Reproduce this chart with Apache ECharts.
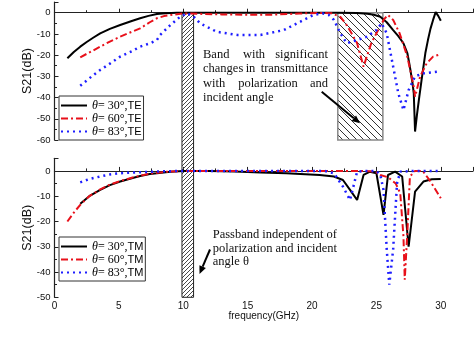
<!DOCTYPE html>
<html><head><meta charset="utf-8">
<script src="https://cdn.jsdelivr.net/npm/echarts@6/dist/echarts.min.js"></script>
<style>html,body{margin:0;padding:0;background:#fff}#c{width:474px;height:345px}</style>
</head><body><div id="c"></div>
<script>
// ---- data (frequency GHz, S21 dB) ----
const teNames = ['θ=30°,TE', 'θ=60°,TE', 'θ=83°,TE'];
const tmNames = ['θ=30°,TM', 'θ=60°,TM', 'θ=83°,TM'];

const te30 = [[1,-21.5],[1.5,-18.5],[2,-16],[2.5,-13.8],[3,-11.8],[3.55,-9.7],[4.3,-7.6],[5.1,-5.8],[6,-3.9],[6.65,-2.6],[7.3,-1.5],[7.95,-0.6],[8.6,-0.2],[9.5,0],[12,0],[16,0],[20,0],[22,0],[23.5,-0.1],[24.3,-0.5],[24.8,-1],[25.3,-1.9],[25.8,-4.5],[26.3,-8.2],[26.7,-11],[27.1,-14.4],[27.4,-19],[27.6,-25.5],[27.8,-33],[27.9,-38],[28.0,-56],[28.15,-48],[28.3,-41],[28.5,-32],[28.65,-25.5],[28.8,-19],[29.0,-12.9],[29.2,-7.5],[29.4,-3.4],[29.6,0.3],[29.8,-1.5],[30.0,-3.8]];
const te60 = [[2,-21],[3,-17.8],[3.55,-16],[4.3,-13.6],[5.1,-11.3],[6,-9],[6.65,-7.4],[7.4,-4.5],[7.95,-2.6],[8.5,-1.6],[9,-1.1],[10,-0.3],[11,-0.5],[13,-0.8],[15,-1],[17,-0.9],[19,-0.4],[20.5,-0.1],[21.5,-0.2],[22.2,-2],[22.6,-5],[23,-9],[23.5,-14.4],[24,-25.5],[24.25,-20.7],[24.6,-14.4],[25.2,-7.4],[25.6,-3],[25.9,-1.1],[26.3,-3.4],[26.8,-9.7],[27.4,-20.7],[27.9,-35],[28.0,-39.6],[28.4,-30],[28.9,-23.9],[29.4,-20.7],[30,-19.5]];
const te83 = [[2,-34.4],[3,-29.5],[3.55,-27],[4.3,-24],[5.1,-20.7],[6,-18.2],[6.65,-16],[7.43,-14.4],[7.95,-12.9],[8.2,-10.5],[9,-5.8],[9.76,-1.9],[10.3,-0.3],[10.8,-1.8],[11.3,-5],[12.6,-9],[14.2,-10.5],[16,-10.5],[17.8,-8.2],[19.1,-4.2],[20.1,-1.1],[20.8,-0.3],[21.3,-1],[21.7,-3.4],[22.2,-9.7],[22.7,-14.4],[23.5,-12.9],[24.25,-11.3],[25,-8.2],[25.4,-5],[25.8,-9.7],[26.2,-22.3],[26.7,-38],[27.1,-45.9],[27.5,-36.5],[28,-30],[28.65,-28.6],[29.7,-27.8]];

const tm30 = [[2,-13],[2.7,-10],[3.55,-7.5],[4.3,-5.6],[5.1,-4.2],[6,-2.9],[6.65,-2],[7.4,-1.2],[7.95,-0.9],[9,-0.3],[10,0],[12,0],[14,-0.2],[16,-0.6],[18,-0.9],[19.1,-1.2],[20.6,-1.6],[21.7,-2.2],[22.4,-3.6],[22.95,-7.5],[23.5,-11.5],[24,-1.6],[24.5,-0.3],[25,-0.9],[25.55,-17.4],[25.9,-1.6],[26.45,-0.3],[27,-2.2],[27.5,-30],[28,-8.2],[28.65,-4.2],[29.3,-3.3],[30,-3.2]];
const tm60 = [[1,-20],[1.5,-16.5],[2,-13.4],[2.7,-10],[3.55,-7.3],[4.3,-5.4],[5.1,-4],[6,-2.7],[6.65,-1.9],[7.4,-1.1],[8,-0.7],[9,-0.2],[10,0],[14,0],[18,0],[21,0],[24,0],[24.9,-0.3],[25.3,-1.6],[25.9,-2.5],[26.5,-5],[26.85,-8.8],[27.1,-26],[27.2,-43],[27.4,-24.6],[27.6,-2.2],[28,0],[28.6,0],[29.2,-4.2],[30,-10.8]];
const tm83 = [[2,-4.5],[2.7,-3.2],[3.55,-2.2],[4.3,-1.4],[5.1,-0.9],[6.65,-0.5],[8,-0.2],[10,0],[14,0],[18,0],[21,0],[21.7,-0.9],[22.4,-6.2],[22.95,-11.5],[23.5,-0.3],[24,0],[25,0],[25.3,-1.5],[25.55,-7.5],[25.8,-31],[26,-45],[26.3,-31],[26.6,-4.9],[26.85,-0.3],[28,0],[30,0]];

// hatched bands [xStart, xEnd]
const narrowBand = [9.9, 10.8];
const wideBand = [22, 25.5];
const wideBandY = [0, -60];

// ---- styles ----
function hatch(s, back, color, lw) {
  const c = document.createElement('canvas');
  c.width = s; c.height = s;
  const g = c.getContext('2d');
  g.strokeStyle = color; g.lineWidth = lw;
  g.beginPath();
  for (let k = -1; k <= 2; k++) {
    if (back) { g.moveTo(0, k * s); g.lineTo(s, k * s + s); }
    else { g.moveTo(0, k * s); g.lineTo(s, k * s - s); }
  }
  g.stroke();
  return { image: c, repeat: 'repeat' };
}

const styles = [
  { color: '#000', lineStyle: { width: 2, color: '#000', type: 'solid' } },
  { color: '#e8101a', lineStyle: { width: 2, color: '#e8101a', type: [7, 3, 2, 3] } },
  { color: '#1e1eff', lineStyle: { width: 2.5, color: '#1e1eff', type: [2, 4] } }
];

function mkSeries(name, data, st, idx) {
  return {
    name, type: 'line', data, xAxisIndex: idx, yAxisIndex: idx,
    symbol: 'none', smooth: false, z: 5,
    itemStyle: { color: st.color }, lineStyle: st.lineStyle, clip: true
  };
}

const L = 54.5, R = 1;
const axisCol = '#222';
function xAx(idx, showLabel) {
  return {
    type: 'value', gridIndex: idx, min: 0, max: 32.5, interval: 5,
    axisLine: { show: idx !== 2, lineStyle: { color: axisCol, width: 1.2 } },
    axisTick: { show: idx !== 2, inside: true, length: 4, lineStyle: { color: axisCol } },
    minorTick: { show: idx !== 2, splitNumber: 2, length: 2.5, lineStyle: { color: axisCol } },
    splitLine: { show: false },
    axisLabel: { show: showLabel, showMaxLabel: false, fontFamily: 'Liberation Sans', fontSize: 10, color: '#111', margin: 4 },
    name: showLabel ? 'frequency(GHz)' : '', nameLocation: 'middle', nameGap: 14, nameMoveOverlap: false,
    nameTextStyle: { fontFamily: 'Liberation Sans', fontSize: 10, color: '#111' }
  };
}
function yAx(idx, min, max) {
  return {
    type: 'value', gridIndex: idx, min, max, interval: 10,
    axisLine: { show: true, onZero: false, lineStyle: { color: axisCol, width: 1.2 } },
    axisTick: { inside: true, length: 4, lineStyle: { color: axisCol } },
    minorTick: { show: true, splitNumber: 2, length: 2.5, lineStyle: { color: axisCol } },
    splitLine: { show: false },
    axisLabel: { fontFamily: 'Liberation Sans', fontSize: 9.5, color: '#111', margin: 4,
      formatter: v => (v > 0 ? '' : String(v)) },
    name: 'S21(dB)', nameLocation: 'middle', nameGap: 20, nameMoveOverlap: false,
    nameTextStyle: { fontFamily: 'Liberation Sans', fontSize: 12.5, color: '#111' }
  };
}

function legendFmt(name) {
  const m = name.match(/θ=(\d+°,)(T[EM])/);
  return '{i|θ}{s|= ' + m[1] + '}{t|' + m[2] + '}';
}
const legendRich = {
  i: { fontFamily: 'Liberation Serif', fontStyle: 'italic', fontSize: 12, color: '#000' },
  s: { fontFamily: 'Liberation Serif', fontSize: 12, color: '#000' },
  t: { fontFamily: 'Liberation Sans', fontSize: 11, color: '#000' }
};
function legend(names, top) {
  return {
    data: names, orient: 'vertical', left: 59, top, itemWidth: 26, itemHeight: 9, itemGap: 0,
    padding: [3, 2, 2, 1], borderColor: '#333', borderWidth: 1, backgroundColor: '#fff',
    itemStyle: { opacity: 0 },
    formatter: legendFmt, textStyle: { rich: legendRich, padding: [0, 0, 0, 0], lineHeight: 13 }, selectedMode: false
  };
}

function arrow(x1, y1, x2, y2) {
  const a = Math.atan2(y2 - y1, x2 - x1), h = 8, w = 3.5;
  const bx = x2 - h * Math.cos(a), by = y2 - h * Math.sin(a);
  return [
    { type: 'line', shape: { x1, y1, x2: bx, y2: by }, style: { stroke: '#000', lineWidth: 2 }, z: 20 },
    { type: 'polygon', shape: { points: [[x2, y2], [bx + w * Math.sin(a), by - w * Math.cos(a)], [bx - w * Math.sin(a), by + w * Math.cos(a)]] }, style: { fill: '#000' }, z: 20 }
  ];
}
const serif = { fontFamily: 'Liberation Serif', fontSize: 12.5, fill: '#111' };
function txt(x, y, t, align) {
  return { type: 'text', x, y, z: 20, style: Object.assign({ text: t, align: align || 'left', verticalAlign: 'middle' }, serif) };
}

const chart = echarts.init(document.getElementById('c'));
chart.setOption({
  animation: false,
  backgroundColor: '#fff',
  grid: [
    { left: L, right: R, top: 2.1, height: 137.9 },
    { left: L, right: R, top: 158.3, height: 139 },
    { left: L, right: R, top: 12.7, height: 284.6 }
  ],
  xAxis: [xAx(0, false), xAx(1, true), xAx(2, false)],
  yAxis: [yAx(0, -60, 5), yAx(1, -50, 5),
    { type: 'value', gridIndex: 2, min: 0, max: 1, show: false }],
  legend: [legend(teNames, 96), legend(tmNames, 237)],
  series: [
    { type: 'line', xAxisIndex: 2, yAxisIndex: 2, data: [], z: 1, silent: true,
      markArea: { silent: true, z: 1,
        itemStyle: { color: hatch(4, false, '#333', 0.9), borderColor: '#222', borderWidth: 1 },
        data: [[{ xAxis: narrowBand[0], yAxis: 0 }, { xAxis: narrowBand[1], yAxis: 1 }]] } },
    { type: 'line', xAxisIndex: 0, yAxisIndex: 0, data: [], z: 1, silent: true,
      markArea: { silent: true, z: 1,
        itemStyle: { color: hatch(7, true, '#333', 1), borderColor: '#888', borderWidth: 1.5 },
        data: [[{ xAxis: wideBand[0], yAxis: wideBandY[0] }, { xAxis: wideBand[1], yAxis: wideBandY[1] }]] } },
    mkSeries(teNames[0], te30, styles[0], 0),
    mkSeries(teNames[1], te60, styles[1], 0),
    mkSeries(teNames[2], te83, styles[2], 0),
    mkSeries(tmNames[0], tm30, styles[0], 1),
    mkSeries(tmNames[1], tm60, styles[1], 1),
    mkSeries(tmNames[2], tm83, styles[2], 1)
  ],
  graphic: [
    txt(203, 55, 'Band'), txt(254, 55, 'with', 'center'), txt(328, 55, 'significant', 'right'),
    txt(203, 69, 'changes'), txt(250.5, 69, 'in', 'center'), txt(328, 69, 'transmittance', 'right'),
    txt(203, 83.5, 'with'), txt(268, 83.5, 'polarization', 'center'), txt(328, 83.5, 'and', 'right'),
    txt(203, 98, 'incident angle'),
    ...arrow(321.7, 91.7, 360, 123.3),
    txt(212.7, 235, 'Passband independent of'),
    txt(212.7, 248.5, 'polarization and incident'),
    txt(212.7, 262, 'angle θ'),
    ...arrow(210, 249.5, 199.5, 274)
  ]
});
</script></body></html>
